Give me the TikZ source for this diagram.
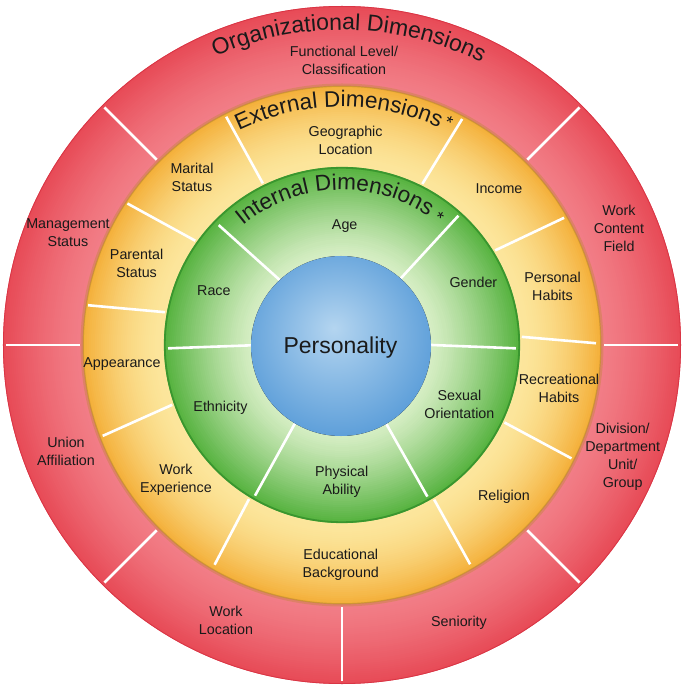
\documentclass[tikz,border=0pt]{standalone}
\usepackage{fontspec}
\setmainfont{Liberation Sans}
\usetikzlibrary{decorations.text}
\definecolor{txt}{HTML}{1A1A1A}
\definecolor{redB}{HTML}{F27E87}
\definecolor{redC}{HTML}{E74A56}
\definecolor{redD}{HTML}{D93545}
\definecolor{yelA}{HTML}{FCE69C}
\definecolor{yelC}{HTML}{F4B03A}
\definecolor{yelD}{HTML}{B98630}
\definecolor{grnA}{HTML}{D6EEC4}
\definecolor{grnC}{HTML}{55B23E}
\definecolor{grnD}{HTML}{3A962F}
\definecolor{bluA}{HTML}{B4D5F0}
\definecolor{bluB}{HTML}{5C9ED9}
\definecolor{bluC}{HTML}{2E76BE}
\pgfdeclareradialshading{blush}{\pgfpoint{-2bp}{5bp}}{color(0bp)=(bluA); color(28bp)=(bluB); color(50bp)=(bluC)}
\newcommand\orgfont{\fontsize{23}{23}\selectfont}
\newcommand\dimfont{\fontsize{22.5}{22.5}\selectfont}
\begin{document}
\begin{tikzpicture}[x=1pt,y=1pt,
  lab/.style={font=\fontsize{14.3}{18}\selectfont, align=center, text=txt, inner sep=0pt},
  one/.style={text height=10.3pt, text depth=0pt},
  divider/.style={white, line width=2.6pt},
  star/.style={font=\fontsize{18}{18}\selectfont, text=txt, inner sep=0pt, anchor=base}]
\useasboundingbox (-342,-343) rectangle (343,345);
% red ring
\foreach \r in {339,337,...,261} {
  \pgfmathtruncatemacro\p{100*((\r-259)/80)^1.3}
  \fill[redC!\p!redB] (0,0) circle (\r);
}
\draw[redD, line width=0.8pt] (0,0) circle (338.6);
\foreach \a in {0,45,135,180,225,270,315}
  \draw[divider] (\a:262) -- (\a:336);
% yellow ring
\draw[yelD, opacity=0.35, line width=3pt] (0,0) circle (260);
\foreach \r in {259,257,...,179} {
  \pgfmathtruncatemacro\p{100*((\r-178)/81)^1.6}
  \fill[yelC!\p!yelA] (0,0) circle (\r);
}
\draw[yelD, opacity=0.6, line width=1.2pt] (0,0) circle (258.8);
\draw[divider] (62:256) -- (63.5:180);
\draw[divider] (116.9:256) -- (116.1:180);
\draw[divider] (146.6:257) -- (144.6:180);
\draw[divider] (171.1:257) -- (169.5:180);
\draw[divider] (200.8:256) -- (199.4:180);
\draw[divider] (239.9:254) -- (238.9:180);
\draw[divider] (300.3:254) -- (300.8:180);
\draw[divider] (333.7:256) -- (334.5:180);
\draw[divider] (0.4:254) -- (2.6:180);
\draw[divider] (29.8:256) -- (31.7:180);
% green ring
\foreach \r in {178,176,...,92} {
  \pgfmathtruncatemacro\p{100*((\r-90)/88)^1.2}
  \fill[grnC!\p!grnA] (0,0) circle (\r);
}
\draw[grnD, line width=1.8pt] (0,0) circle (177.2);
\draw[divider] (135.8:172) -- (133.7:88);
\draw[divider] (48:174) -- (48.6:88);
\draw[divider] (-1.1:174) -- (0.1:86);
\draw[divider] (299.4:174) -- (299.3:86);
\draw[divider] (240:174) -- (238.9:86);
\draw[divider] (181.1:174) -- (180.1:86);
% blue centre
\fill[shading=blush] (-1,-1) circle (90);
% arc titles
\path[decorate, decoration={text along path, text align=center, text color=txt,
  text={|\orgfont|Organizational Dimensions}}]
  (168.7:315) arc[start angle=168.7, end angle=8.7, radius=315];
\path[decorate, decoration={text along path, text align=center, text color=txt,
  text={|\dimfont|External Dimensions}}]
  (170.8:238) arc[start angle=170.8, end angle=10.8, radius=238];
\path[decorate, decoration={text along path, text align=center, text color=txt,
  text={|\dimfont|Internal Dimensions}}]
  (173:155) arc[start angle=173, end angle=13, radius=155];
\node[star, rotate=-25.5] (extstar) at (64.4:241) {*};
\node[star, rotate=-37.2] (intstar) at (52.8:154) {*};
% organizational labels
\node[lab] (func) at (2,284.5) {Functional Level/\\Classification};
\node[lab] (mgmt) at (-274,112) {Management\\Status};
\node[lab] (union) at (-276,-106.5) {Union\\Affiliation};
\node[lab] (wloc) at (-116,-275) {Work\\Location};
\node[lab, one] (senior) at (117,-276.4) {Seniority};
\node[lab] (div) at (280.7,-111.7) {Division/\\Department\\Unit/\\Group};
\node[lab] (wcf) at (277,116.6) {Work\\Content\\Field};
% external labels
\node[lab] (geo) at (3.6,204.5) {Geographic\\Location};
\node[lab, one] (income) at (157,157) {Income};
\node[lab] (phab) at (210.5,58.2) {Personal\\Habits};
\node[lab] (rhab) at (217,-43.2) {Recreational\\Habits};
\node[lab, one] (relig) at (162,-150) {Religion};
\node[lab] (edu) at (-1.2,-219.8) {Educational\\Background};
\node[lab] (wexp) at (-166,-134.6) {Work\\Experience};
\node[lab, one] (appear) at (-220,-17.3) {Appearance};
\node[lab] (parent) at (-205.4,81.5) {Parental\\Status};
\node[lab] (marital) at (-150,168) {Marital\\Status};
% internal labels
\node[lab, one] (age) at (2.7,121) {Age};
\node[lab, one] (gender) at (131.4,62.6) {Gender};
\node[lab] (sex) at (117.4,-59.5) {Sexual\\Orientation};
\node[lab] (phys) at (-0.3,-137.2) {Physical\\Ability};
\node[lab, one] (eth) at (-121.5,-61.2) {Ethnicity};
\node[lab, one] (race) at (-128.1,54.7) {Race};
\node[lab, font=\fontsize{23}{23}\selectfont, text height=16.5pt, text depth=0pt] (pers) at (-1.6,-0.6) {Personality};
\end{tikzpicture}
\end{document}
